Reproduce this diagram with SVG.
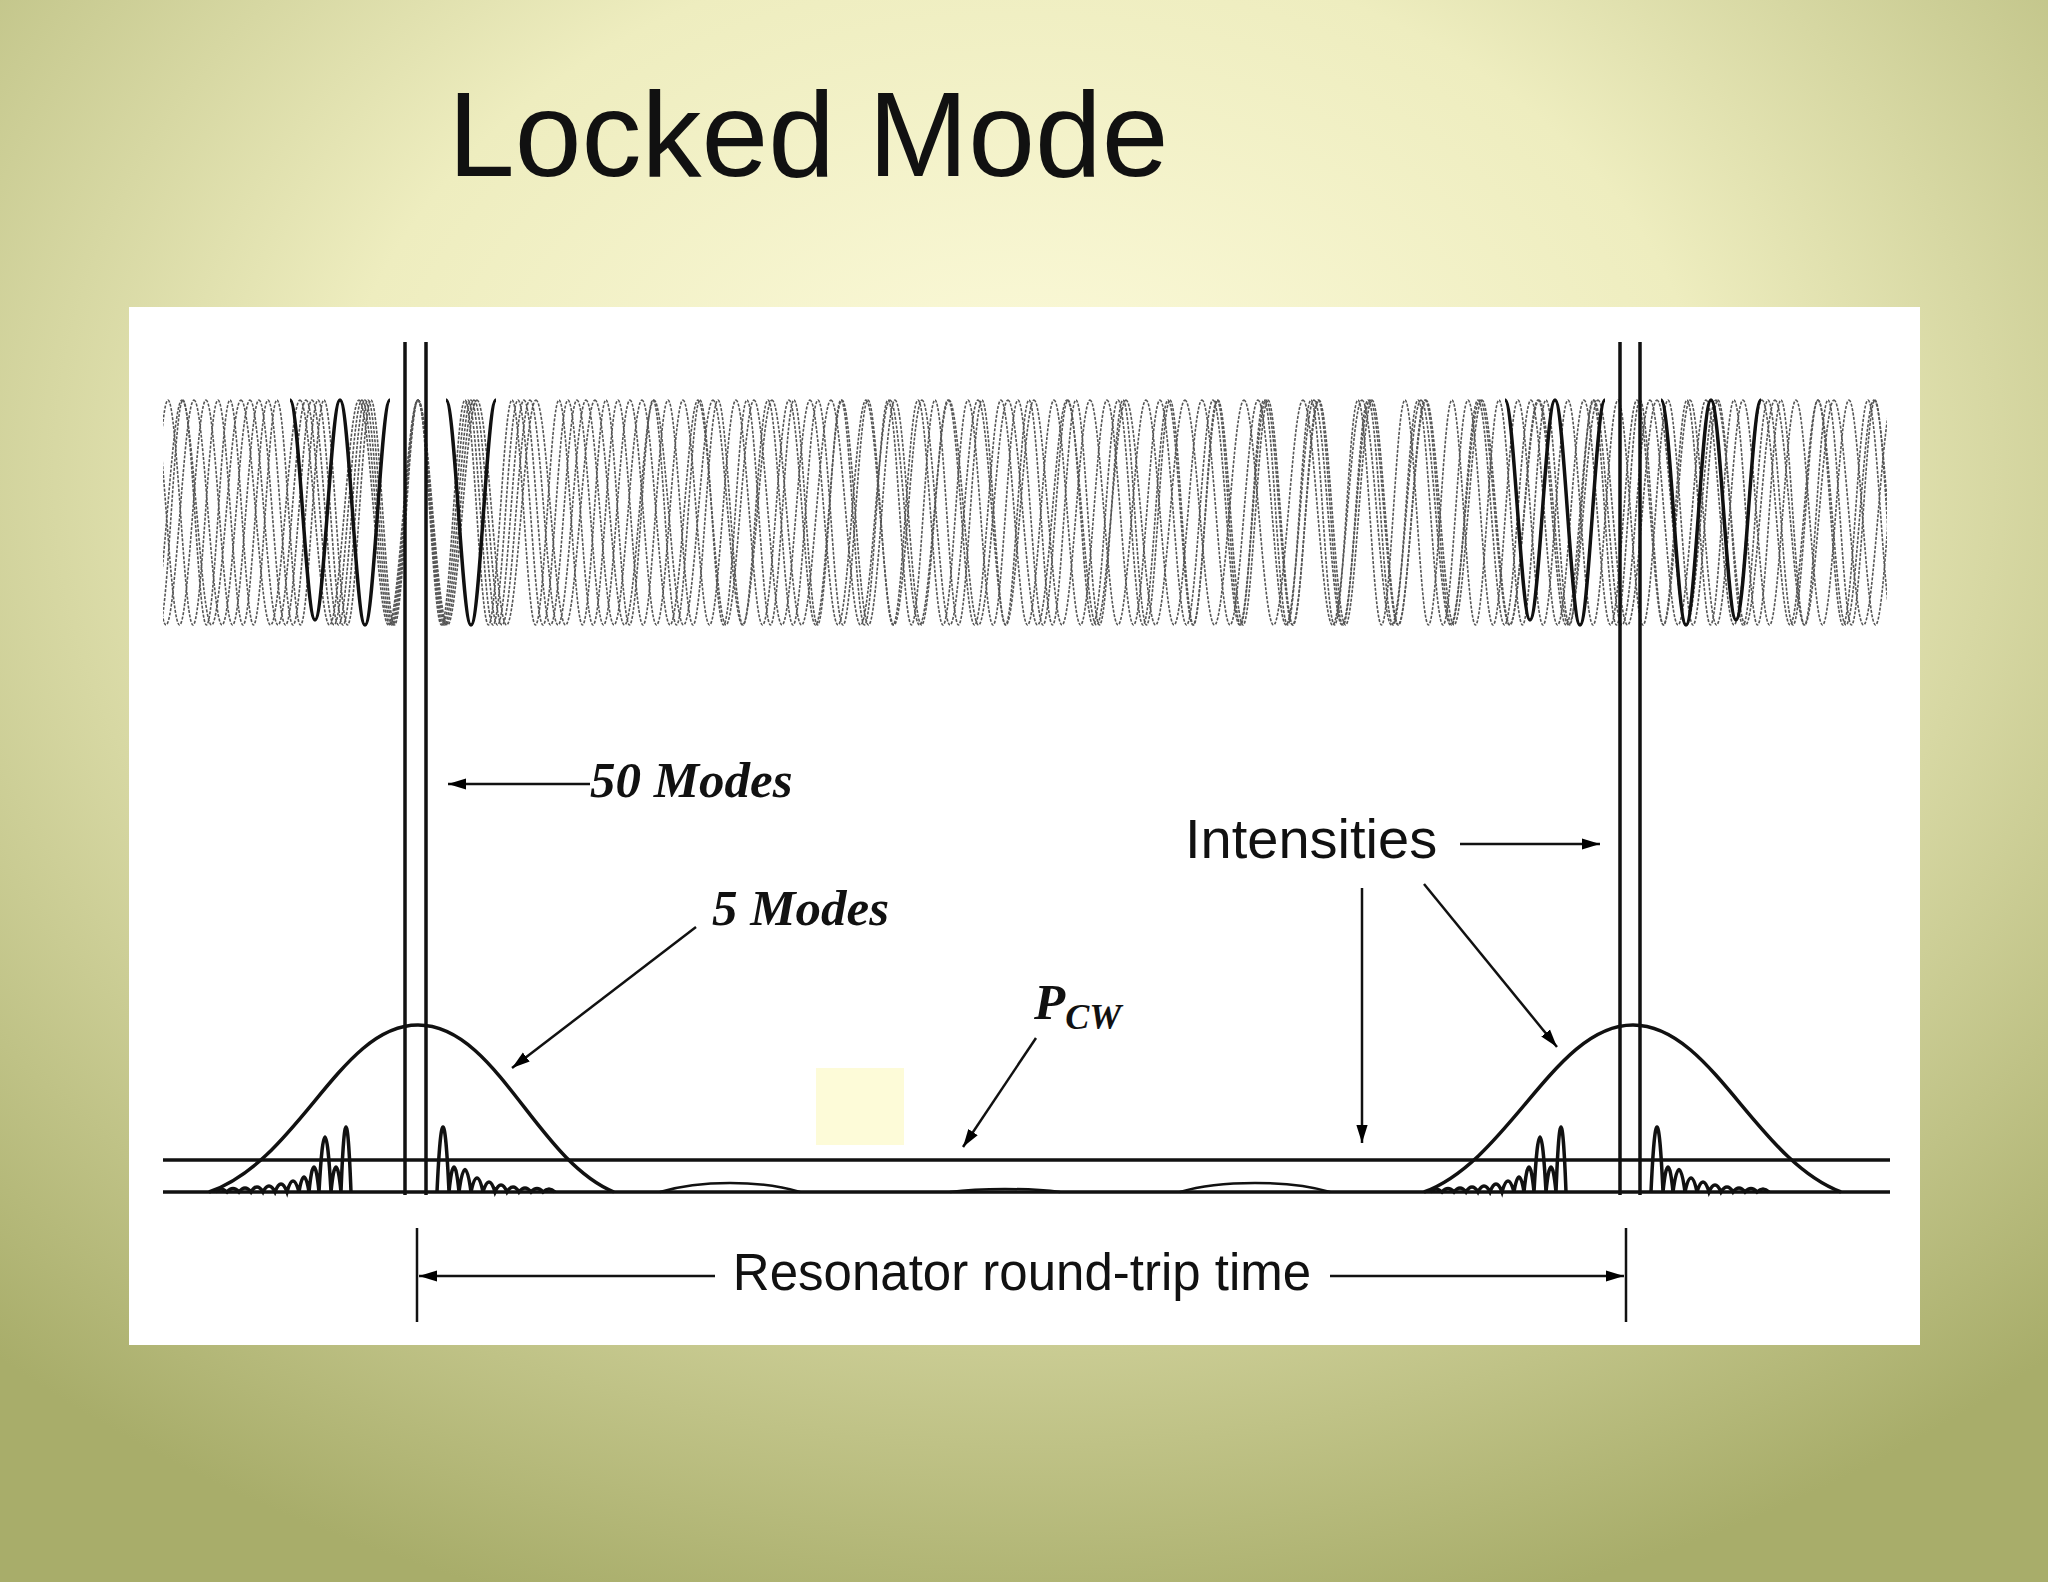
<svg xmlns="http://www.w3.org/2000/svg" width="2048" height="1582" viewBox="0 0 2048 1582">
<defs>
<radialGradient id="bg" cx="0.5" cy="0.3" r="0.75">
<stop offset="0" stop-color="#fdfbdc"/><stop offset="0.45" stop-color="#eeedbf"/><stop offset="1" stop-color="#a8ad6a"/>
</radialGradient>
<pattern id="w1" patternUnits="userSpaceOnUse" x="418" y="398" width="50" height="230"><path d="M0 2 C9 2 16 227 25 227 C34 227 41 2 50 2" class="wv"/></pattern>
<pattern id="w2" patternUnits="userSpaceOnUse" x="418" y="398" width="53" height="230"><path d="M0 2 C9.5 2 17 227 26.5 227 C36 227 43.5 2 53 2" class="wv"/></pattern>
<pattern id="w3" patternUnits="userSpaceOnUse" x="418" y="398" width="56" height="230"><path d="M0 2 C10 2 18 227 28 227 C38 227 46 2 56 2" class="wv"/></pattern>
<pattern id="w4" patternUnits="userSpaceOnUse" x="418" y="398" width="47" height="230"><path d="M0 2 C8.5 2 15 227 23.5 227 C32 227 38.5 2 47 2" class="wv"/></pattern>
<pattern id="w5" patternUnits="userSpaceOnUse" x="418" y="398" width="59" height="230"><path d="M0 2 C10.5 2 19 227 29.5 227 C40 227 48.5 2 59 2" class="wv"/></pattern>
<marker id="ah" viewBox="0 0 10 10" refX="10" refY="5" markerWidth="18" markerHeight="14" orient="auto-start-reverse" markerUnits="userSpaceOnUse" preserveAspectRatio="none"><path d="M0 1 L10 5 L0 9 z" fill="#000"/></marker>
</defs>
<style>
.wv{fill:none;stroke:#555;stroke-width:1.6;stroke-dasharray:3 1.5}
.ln{fill:none;stroke:#111;stroke-width:3.5}
.th{fill:none;stroke:#111;stroke-width:2.5}
.lab{font-family:"Liberation Serif",serif;font-weight:bold;font-style:italic;font-size:51px;fill:#111}
.sans{font-family:"Liberation Sans",Arial,sans-serif;fill:#111}
</style>
<rect width="2048" height="1582" fill="url(#bg)"/>
<text class="sans" x="448" y="176" font-size="120">Locked Mode</text>
<rect x="129" y="307" width="1791" height="1038" fill="#fff"/>
<g id="waves">
<rect x="163" y="398" width="1724" height="230" fill="url(#w1)"/>
<rect x="163" y="398" width="1724" height="230" fill="url(#w2)"/>
<rect x="163" y="398" width="1724" height="230" fill="url(#w3)"/>
<rect x="163" y="398" width="1724" height="230" fill="url(#w4)"/>
<rect x="163" y="398" width="1724" height="230" fill="url(#w5)"/>
<path class="ln" d="M340 400 C349 400 356 625 365 625 C374 625 381 400 390 400 M446 400 C455 400 462 625 471 625 C480 625 487 400 496 400 M290 400 C299 400 306 620 315 620 C324 620 331 400 340 400 M1555 400 C1564 400 1571 625 1580 625 C1589 625 1596 400 1605 400 M1661 400 C1670 400 1677 625 1686 625 C1695 625 1702 400 1711 400 M1711 400 C1720 400 1727 620 1736 620 C1745 620 1752 400 1761 400 M1505 400 C1514 400 1521 620 1530 620 C1539 620 1546 400 1555 400"/>
</g>
<g id="spikes">
<path class="ln" d="M405 342 L405 1195 M426 342 L426 1195 M1620 342 L1620 1195 M1640 342 L1640 1195"/>
</g>
<g id="gauss">
<path class="ln" d="M209 1192 C300 1160 340 1025 418 1025 C496 1025 536 1160 614 1192"/>
<path class="ln" d="M1424 1192 C1510 1160 1555 1025 1633 1025 C1711 1025 1756 1160 1841 1192"/>
</g>
<g id="base">
<path class="ln" d="M163 1160 L1890 1160"/>
<path class="ln" d="M163 1192 L1890 1192"/>
<path class="th" d="M660 1192 C700 1180 760 1180 800 1192 M1180 1192 C1220 1180 1290 1180 1330 1192 M950 1192 C980 1188 1030 1188 1060 1192"/>
<path class="ln" d="M215 1192 q6 -6 12 0 q6 -7 12 0 q6 -8 12 0 q6 -10 12 0 q6 -12 12 0 q6 -16 12 0 q6 -22 12 0 q5 -30 10 0 q5 -50 10 0 q6 -110 12 0 q5 -50 10 0 q5 -130 10 0"/>
<path class="ln" d="M437 1192 q6 -130 12 0 q5 -50 10 0 q6 -45 12 0 q6 -28 12 0 q6 -20 12 0 q6 -14 12 0 q6 -10 12 0 q6 -8 12 0 q6 -7 12 0 q6 -6 12 0"/>
<path class="ln" d="M1430 1192 q6 -6 12 0 q6 -7 12 0 q6 -8 12 0 q6 -10 12 0 q6 -12 12 0 q6 -16 12 0 q6 -22 12 0 q5 -30 10 0 q5 -50 10 0 q6 -110 12 0 q5 -50 10 0 q5 -130 10 0"/>
<path class="ln" d="M1651 1192 q6 -130 12 0 q5 -50 10 0 q6 -45 12 0 q6 -28 12 0 q6 -20 12 0 q6 -14 12 0 q6 -10 12 0 q6 -8 12 0 q6 -7 12 0 q6 -6 12 0"/>
</g>
<rect x="816" y="1068" width="88" height="77" fill="#fdfbd8"/>
<g id="connectors">
<path class="th" d="M590 784 L448 784" marker-end="url(#ah)"/>
<path class="th" d="M696 927 L512 1068" marker-end="url(#ah)"/>
<path class="th" d="M1036 1038 L963 1147" marker-end="url(#ah)"/>
<path class="th" d="M1460 844 L1600 844" marker-end="url(#ah)"/>
<path class="th" d="M1362 888 L1362 1143" marker-end="url(#ah)"/>
<path class="th" d="M1424 884 L1557 1047" marker-end="url(#ah)"/>
<path class="th" d="M417 1228 L417 1322 M1626 1228 L1626 1322"/>
<path class="th" d="M715 1276 L419 1276" marker-end="url(#ah)"/>
<path class="th" d="M1330 1276 L1624 1276" marker-end="url(#ah)"/>
</g>
<g id="labels">
<text class="lab" x="590" y="797">50 Modes</text>
<text class="lab" x="712" y="925">5 Modes</text>
<text class="lab" x="1034" y="1019">P<tspan font-size="36" dy="10">CW</tspan></text>
<text class="sans" x="1185" y="858" font-size="56">Intensities</text>
<text class="sans" x="1022" y="1290" font-size="51" text-anchor="middle">Resonator round-trip time</text>
</g>
</svg>
